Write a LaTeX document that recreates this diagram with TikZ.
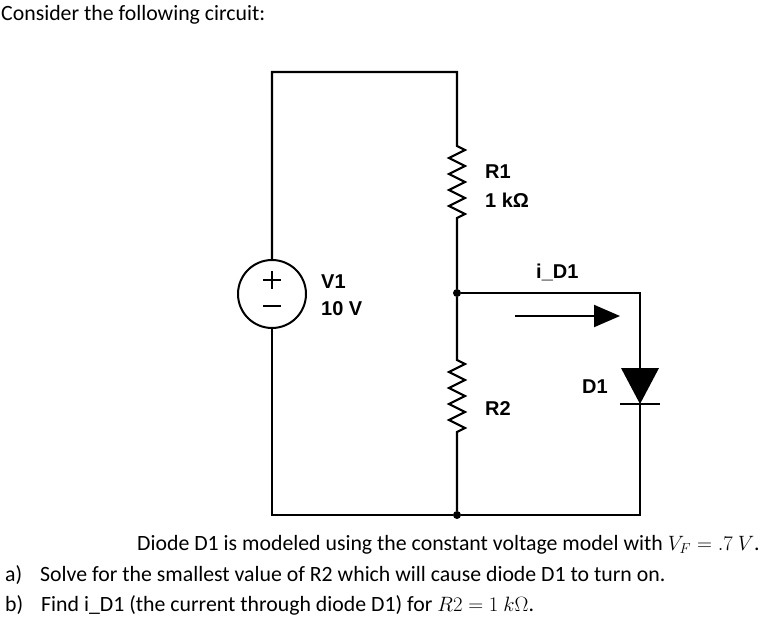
\documentclass[tikz,border=0pt]{standalone}
\usepackage{fontspec}
\setmainfont{Carlito}
\newfontfamily\lab{Liberation Sans}
\usetikzlibrary{arrows.meta}
\begin{document}
\begin{tikzpicture}[x=1pt,y=-1pt,
  wire/.style={line width=2.2pt,line join=miter},
  lbl/.style={font=\lab\bfseries\fontsize{20}{20}\selectfont,anchor=west,inner sep=0},
  txt/.style={font=\fontsize{21.8}{21.8}\selectfont,anchor=west,inner sep=0},
  dot/.style={circle,fill,inner sep=0,minimum size=8pt}]
\useasboundingbox (0,0) rectangle (770,629);
\coordinate (tl) at (272,72); \coordinate (tr) at (457,72);
\coordinate (bl) at (272,515); \coordinate (br) at (640,515);
\node[dot] (m) at (457,293) {};
\node[dot] (b) at (457,515) {};
\node[circle,draw,line width=2pt,minimum size=68pt,inner sep=0] (V) at (272,294) {};
\draw[wire] (V.north) -- (tl) -- (tr) -- (457,146)
  -- ++(8,4) -- ++(-16,8) -- ++(16,8) -- ++(-16,8) -- ++(16,8) -- ++(-16,8) -- ++(16,8) -- ++(-16,8) -- ++(16,8) -- ++(-8,4) -- (m);
\draw[wire] (m) -- (457,360)
  -- ++(8,4) -- ++(-16,8) -- ++(16,8) -- ++(-16,8) -- ++(16,8) -- ++(-16,8) -- ++(16,8) -- ++(-16,8) -- ++(16,8) -- ++(-8,4) -- (b);
\draw[wire] (V.south) -- (bl) -- (b) -- (br) -- (640,404);
\draw[wire] (m) -- (640,293) -- (640,368);
\fill (621,368) -- (659,368) -- (640,404) -- cycle;
\draw[wire] (620,404) -- (660,404);
\draw[line width=2pt] (263,280) -- (281,280) (272,271) -- (272,289) (263,306) -- (281,306);
\draw[line width=2pt,-{Triangle[length=26pt,width=22pt]}] (515,316) -- (620,316);
\node[lbl] (r1) at (485,172) {R1};
\node[lbl] (r1v) at (485,200) {1 kΩ};
\node[lbl] (v1) at (321,282) {V1};
\node[lbl] (v1v) at (321,309) {10 V};
\node[lbl] (id) at (536,272) {i\_D1};
\node[lbl] (d1) at (582,387) {D1};
\node[lbl] (r2) at (485,409) {R2};
\node[txt] (t0) at (1,15) {Consider the following circuit:};
\node[txt] (t1) at (137,545) {Diode D1 is modeled using the constant voltage model with $V_F=.7\ V$.};
\node[txt] (t2) at (5,575) {a)\hspace{18pt}Solve for the smallest value of R2 which will cause diode D1 to turn on.};
\node[txt] (t3) at (5,605) {b)\hspace{18pt}Find i\_D1 (the current through diode D1) for $R2=1\ k\Omega$.};
\end{tikzpicture}
\end{document}
